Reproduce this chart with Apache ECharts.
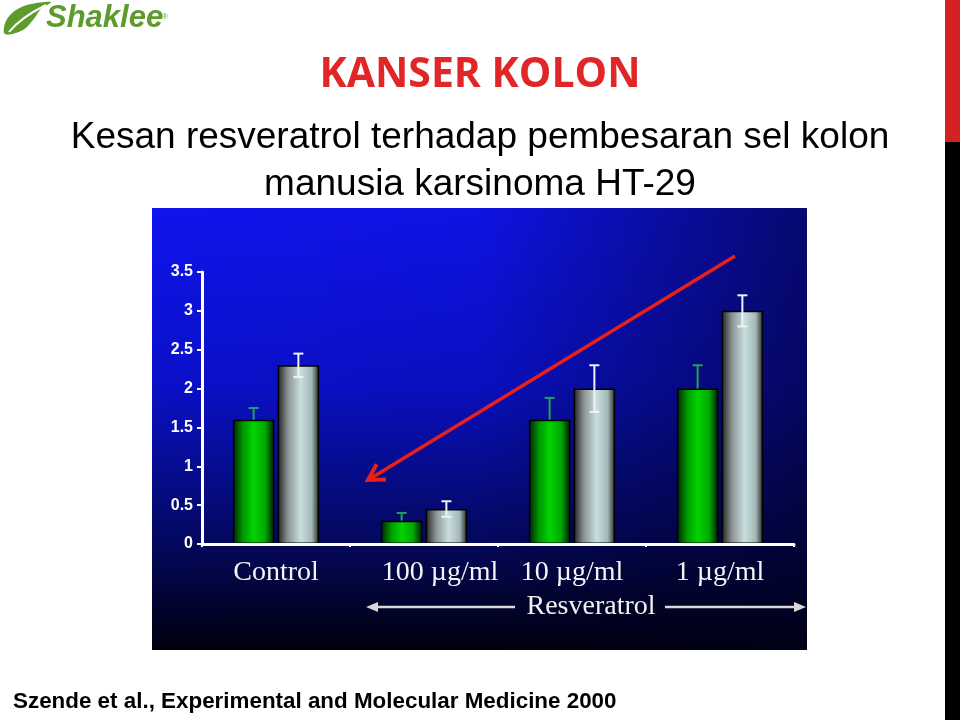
<!DOCTYPE html>
<html>
<head>
<meta charset="utf-8">
<script src="https://cdn.jsdelivr.net/npm/echarts@6/dist/echarts.min.js"></script>
<style>
html,body{margin:0;padding:0;background:#fff;}
#c{width:960px;height:720px;}
</style>
</head>
<body>
<div id="c"></div>
<script>
// ---- data ----
const categories = ['Control', '100 µg/ml', '10 µg/ml', '1 µg/ml'];
const greenValues = [1.6, 0.3, 1.6, 2.0];
const greenErrors = [0.15, 0.1, 0.28, 0.3];
const greyValues = [2.3, 0.45, 2.0, 3.0];
const greyErrors = [0.15, 0.1, 0.3, 0.2];
const yMin = 0, yMax = 3.5, yStep = 0.5;

const titleText = 'KANSER KOLON';
const subtitleText = 'Kesan resveratrol terhadap pembesaran sel kolon\nmanusia karsinoma HT-29';
const sourceText = 'Szende et al., Experimental and Molecular Medicine 2000';
const groupLabel = 'Resveratrol';

// ---- styling ----
const BAR_W = 0.28, BAR_GAP = 0.08;
const OFFSET = BAR_W * (1 + BAR_GAP) / 2;
const G = echarts.graphic;

const greenFill = new G.LinearGradient(0, 0, 1, 0, [
  {offset: 0, color: '#002200'}, {offset: 0.25, color: '#009a00'},
  {offset: 0.5, color: '#00d400'}, {offset: 0.78, color: '#00a800'},
  {offset: 1, color: '#001800'}]);
const greyFill = new G.LinearGradient(0, 0, 1, 0, [
  {offset: 0, color: '#222222'}, {offset: 0.25, color: '#8c9494'},
  {offset: 0.55, color: '#c8dede'}, {offset: 0.82, color: '#a4b8b8'},
  {offset: 1, color: '#262626'}]);

function errRender(sign, color, both) {
  return function (params, api) {
    const i = api.value(0), v = api.value(1), e = api.value(2);
    const band = api.size([1, 0])[0];
    const dx = sign * band * OFFSET;
    const top = api.coord([i, v + e]);
    const bot = api.coord([i, both ? v - e : v]);
    const x = top[0] + dx, cap = 5;
    const style = {stroke: color, lineWidth: 2};
    const ch = [
      {type: 'line', shape: {x1: x, y1: top[1], x2: x, y2: bot[1]}, style},
      {type: 'line', shape: {x1: x - cap, y1: top[1], x2: x + cap, y2: top[1]}, style}
    ];
    if (both) ch.push({type: 'line', shape: {x1: x - cap, y1: bot[1], x2: x + cap, y2: bot[1]}, style});
    return {type: 'group', children: ch};
  };
}

// red arrow (annotation)
const aS = [735, 256], aE = [368, 480];
const ux = (aS[0] - aE[0]), uy = (aS[1] - aE[1]);
const ul = Math.hypot(ux, uy), vx = ux / ul, vy = uy / ul;
function rot(a) { const c = Math.cos(a), s = Math.sin(a); return [vx * c - vy * s, vx * s + vy * c]; }
const h1 = rot(Math.PI / 6), h2 = rot(-Math.PI / 6), HL = 18;

const chart = echarts.init(document.getElementById('c'));
chart.setOption({
  backgroundColor: '#ffffff',
  animation: false,
  title: [
    {text: titleText, left: 'center', top: 50,
     textStyle: {fontFamily: 'Open Sans', fontWeight: 'bold', fontSize: 41, color: '#e02626'}},
    {text: subtitleText, left: 'center', top: 109,
     textStyle: {fontFamily: 'Liberation Sans', fontWeight: 'normal', fontSize: 37, lineHeight: 47, color: '#000'}},
    {text: sourceText, left: 8, top: 686,
     textStyle: {fontFamily: 'Liberation Sans', fontWeight: 'bold', fontSize: 22.4, color: '#000'}}
  ],
  graphic: [
    {type: 'rect', z: -10, shape: {x: 152, y: 208, width: 655, height: 442},
     style: {fill: new G.LinearGradient(0, 0, 0, 1, [
       {offset: 0, color: '#1014ee'}, {offset: 0.4, color: '#0a10c8'},
       {offset: 0.72, color: '#04096a'}, {offset: 1, color: '#00000c'}])}},
    {type: 'rect', z: -9, shape: {x: 152, y: 208, width: 655, height: 442},
     style: {fill: new G.LinearGradient(0, 0, 1, 0, [
       {offset: 0, color: 'rgba(0,0,20,0)'}, {offset: 0.5, color: 'rgba(0,0,20,0.05)'},
       {offset: 1, color: 'rgba(0,0,30,0.6)'}])}},
    {type: 'rect', shape: {x: 945, y: 0, width: 15, height: 142}, style: {fill: '#d42222'}},
    {type: 'rect', shape: {x: 945, y: 142, width: 15, height: 578}, style: {fill: '#000'}},
    // logo
    {type: 'polygon', shape: {points: [[5, 34], [6, 21], [16, 10], [31, 4], [51, 2], [41, 9], [33, 20], [23, 30]], smooth: 0.35},
     style: {fill: '#5d9b2c'}},
    {type: 'bezierCurve', shape: {x1: 9, y1: 32, cpx1: 20, cpy1: 18, x2: 46, y2: 5},
     style: {fill: null, stroke: '#fff', lineWidth: 2}},
    {type: 'text', x: 46, y: 3, style: {text: 'Shaklee', fill: '#5d9b2c',
     font: 'italic bold 31px "Liberation Sans"'}},
    {type: 'text', x: 162, y: 13, style: {text: '®', fill: '#5d9b2c', font: '8px "Liberation Sans"'}},
    // Resveratrol label with arrows
    {type: 'text', x: 591, y: 607, style: {text: groupLabel, fill: '#f2f2f2',
     font: '28px "Liberation Serif"', align: 'center', verticalAlign: 'middle'}},
    {type: 'line', shape: {x1: 372, y1: 607, x2: 515, y2: 607}, style: {stroke: '#d8d8d8', lineWidth: 2.5}},
    {type: 'polygon', shape: {points: [[366, 607], [378, 602], [378, 612]]}, style: {fill: '#d8d8d8'}},
    {type: 'line', shape: {x1: 665, y1: 607, x2: 800, y2: 607}, style: {stroke: '#d8d8d8', lineWidth: 2.5}},
    {type: 'polygon', shape: {points: [[806, 607], [794, 602], [794, 612]]}, style: {fill: '#d8d8d8'}},
    // red arrow
    {type: 'polyline', z: 50, shape: {points: [aS, aE]}, style: {stroke: '#e8201c', lineWidth: 3.5}},
    {type: 'polyline', z: 50, shape: {points: [
      [aE[0] + h1[0] * HL, aE[1] + h1[1] * HL], aE, [aE[0] + h2[0] * HL, aE[1] + h2[1] * HL]]},
     style: {stroke: '#e8201c', lineWidth: 4, fill: null, lineJoin: 'miter'}}
  ],
  grid: {left: 202, right: 166, top: 272, bottom: 176, containLabel: false},
  xAxis: {
    type: 'category', z: 5,
    data: categories.map((c, i) => i === 1 ? {value: c, textStyle: {padding: [0, 0, 0, 32]}} : c),
    axisLine: {lineStyle: {color: '#ffffff', width: 3}},
    axisTick: {show: true, length: 3, lineStyle: {color: '#ffffff', width: 2}},
    axisLabel: {interval: 0, hideOverlap: false, color: '#f4f4f4', fontFamily: 'Liberation Serif', fontSize: 28, margin: 15}
  },
  yAxis: {
    type: 'value', min: yMin, max: yMax, interval: yStep, z: 5,
    splitLine: {show: false},
    axisLine: {show: true, lineStyle: {color: '#ffffff', width: 3}},
    axisTick: {show: true, length: 5, lineStyle: {color: '#ffffff', width: 2}},
    axisLabel: {color: '#ffffff', fontFamily: 'Liberation Sans', fontWeight: 'bold', fontSize: 16, margin: 9}
  },
  series: [
    {type: 'bar', data: greenValues, barWidth: (BAR_W * 100) + '%', barGap: (BAR_GAP * 100) + '%',
     itemStyle: {color: greenFill, borderColor: '#000', borderWidth: 1.5}},
    {type: 'bar', data: greyValues, barWidth: (BAR_W * 100) + '%', barGap: (BAR_GAP * 100) + '%',
     itemStyle: {color: greyFill, borderColor: '#000', borderWidth: 1.5}},
    {type: 'custom', z: 6, renderItem: errRender(-1, '#22a05c', false),
     data: greenValues.map((v, i) => [i, v, greenErrors[i]])},
    {type: 'custom', z: 6, renderItem: errRender(1, '#eef4f4', true),
     data: greyValues.map((v, i) => [i, v, greyErrors[i]])}
  ]
});
</script>
</body>
</html>
